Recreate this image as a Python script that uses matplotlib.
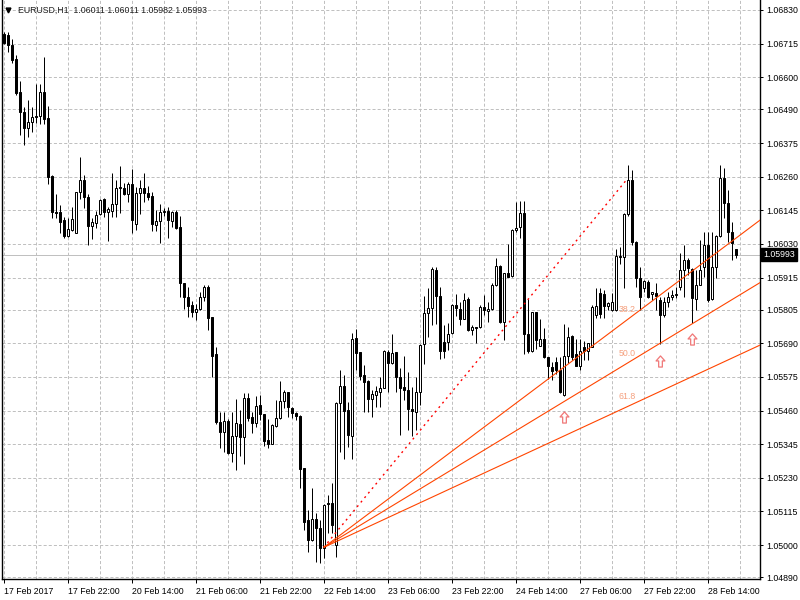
import numpy as np
import matplotlib
matplotlib.use("Agg")
import matplotlib.pyplot as plt
from matplotlib.path import Path
import matplotlib.transforms as mtransforms

plt.rcParams['lines.scale_dashes'] = False
plt.rcParams['font.family'] = ['Liberation Sans', 'DejaVu Sans']

# ---------------- data (EURUSD H1, from 17 Feb 2017 06:00) ----------------
opens = [1.06747, 1.06745, 1.06710, 1.06661, 1.06548, 1.06480, 1.06427, 1.06446, 1.06467, 1.06468,
         1.06548, 1.06460, 1.06262, 1.06138, 1.06138, 1.06112, 1.06058, 1.06078, 1.06068, 1.06207,
         1.06249, 1.06192, 1.06092, 1.06103, 1.06131, 1.06183, 1.06138, 1.06143, 1.06166, 1.06220,
         1.06220, 1.06200, 1.06235, 1.06097, 1.06203, 1.06220, 1.06204, 1.06194, 1.06094, 1.06108,
         1.06140, 1.06143, 1.06109, 1.06140, 1.06087, 1.05895, 1.05847, 1.05821, 1.05796, 1.05807,
         1.05847, 1.05884, 1.05779, 1.05654, 1.05420, 1.05386, 1.05424, 1.05316, 1.05373, 1.05413,
         1.05371, 1.05502, 1.05439, 1.05417, 1.05479, 1.05447, 1.05359, 1.05347, 1.05408, 1.05435,
         1.05493, 1.05523, 1.05469, 1.05452, 1.05442, 1.05262, 1.05086, 1.05017, 1.05088, 1.05057,
         1.04989, 1.05145, 1.05145, 1.05000, 1.05485, 1.05544, 1.05462, 1.05373, 1.05707, 1.05659,
         1.05582, 1.05561, 1.05500, 1.05513, 1.05525, 1.05538, 1.05659, 1.05622, 1.05659, 1.05576,
         1.05542, 1.05530, 1.05465, 1.05456, 1.05523, 1.05688, 1.05793, 1.05810, 1.05941, 1.05852,
         1.05696, 1.05694, 1.05724, 1.05821, 1.05806, 1.05773, 1.05842, 1.05736, 1.05745, 1.05745,
         1.05815, 1.05802, 1.05807, 1.05890, 1.05955, 1.05762, 1.05930, 1.05921, 1.06078, 1.06089,
         1.06137, 1.05722, 1.05665, 1.05796, 1.05682, 1.05704, 1.05642, 1.05610, 1.05627, 1.05599,
         1.05513, 1.05648, 1.05715, 1.05653, 1.05614, 1.05676, 1.05664, 1.05679, 1.05787, 1.05861,
         1.05858, 1.05819, 1.05804, 1.05804, 1.05984, 1.05984, 1.06131, 1.06249, 1.06038, 1.05912,
         1.05880, 1.05901, 1.05858, 1.05862, 1.05838, 1.05787, 1.05832, 1.05850, 1.05855, 1.05884,
         1.05941, 1.05975, 1.05944, 1.05841, 1.05890, 1.05952, 1.06026, 1.05841, 1.05950, 1.06057,
         1.06254, 1.06171, 1.06072, 1.06011]
highs = [1.06755, 1.06756, 1.06730, 1.06676, 1.06587, 1.06499, 1.06522, 1.06497, 1.06577, 1.06577,
         1.06668, 1.06502, 1.06265, 1.06200, 1.06163, 1.06123, 1.06118, 1.06157, 1.06209, 1.06328,
         1.06266, 1.06200, 1.06118, 1.06143, 1.06184, 1.06186, 1.06157, 1.06272, 1.06249, 1.06298,
         1.06237, 1.06243, 1.06286, 1.06223, 1.06249, 1.06272, 1.06228, 1.06207, 1.06146, 1.06167,
         1.06152, 1.06155, 1.06144, 1.06146, 1.06126, 1.05897, 1.05882, 1.05835, 1.05825, 1.05865,
         1.05890, 1.05890, 1.05780, 1.05679, 1.05454, 1.05454, 1.05431, 1.05454, 1.05500, 1.05462,
         1.05519, 1.05519, 1.05454, 1.05510, 1.05512, 1.05450, 1.05430, 1.05413, 1.05496, 1.05561,
         1.05530, 1.05525, 1.05473, 1.05454, 1.05445, 1.05264, 1.05120, 1.05194, 1.05109, 1.05086,
         1.05140, 1.05171, 1.05213, 1.05490, 1.05599, 1.05582, 1.05490, 1.05724, 1.05738, 1.05661,
         1.05616, 1.05563, 1.05530, 1.05544, 1.05576, 1.05667, 1.05667, 1.05722, 1.05661, 1.05607,
         1.05647, 1.05593, 1.05542, 1.05576, 1.05686, 1.05852, 1.05878, 1.05952, 1.05952, 1.05884,
         1.05753, 1.05761, 1.05825, 1.05859, 1.05832, 1.05861, 1.05850, 1.05753, 1.05747, 1.05821,
         1.05855, 1.05830, 1.05895, 1.05983, 1.05957, 1.05932, 1.06030, 1.06080, 1.06174, 1.06177,
         1.06177, 1.05841, 1.05798, 1.05798, 1.05772, 1.05744, 1.05644, 1.05625, 1.05644, 1.05644,
         1.05755, 1.05747, 1.05717, 1.05705, 1.05705, 1.05698, 1.05692, 1.05821, 1.05880, 1.05880,
         1.05872, 1.05832, 1.05863, 1.06012, 1.06020, 1.06135, 1.06300, 1.06283, 1.06040, 1.05952,
         1.05905, 1.05907, 1.05867, 1.05895, 1.05850, 1.05850, 1.05867, 1.05872, 1.05883, 1.05998,
         1.06026, 1.05982, 1.05947, 1.05941, 1.06043, 1.06072, 1.06072, 1.06072, 1.06059, 1.06300,
         1.06289, 1.06214, 1.06106, 1.06011]
lows = [1.06714, 1.06687, 1.06648, 1.06539, 1.06402, 1.06368, 1.06395, 1.06414, 1.06442, 1.06440,
        1.06440, 1.06234, 1.06118, 1.06118, 1.06068, 1.06049, 1.06054, 1.06074, 1.06067, 1.06183,
        1.06152, 1.06026, 1.06046, 1.06085, 1.06129, 1.06123, 1.06041, 1.06123, 1.06123, 1.06135,
        1.06197, 1.06174, 1.06066, 1.06078, 1.06132, 1.06172, 1.06180, 1.06073, 1.06074, 1.06032,
        1.06126, 1.06049, 1.06089, 1.06081, 1.05850, 1.05806, 1.05781, 1.05781, 1.05770, 1.05804,
        1.05836, 1.05736, 1.05574, 1.05413, 1.05331, 1.05319, 1.05312, 1.05285, 1.05257, 1.05305,
        1.05276, 1.05425, 1.05383, 1.05404, 1.05428, 1.05339, 1.05332, 1.05345, 1.05405, 1.05432,
        1.05468, 1.05439, 1.05436, 1.05428, 1.05195, 1.05051, 1.04975, 1.05014, 1.04943, 1.04938,
        1.04955, 1.05040, 1.05040, 1.04960, 1.05319, 1.05293, 1.05337, 1.05293, 1.05599, 1.05565,
        1.05456, 1.05456, 1.05439, 1.05473, 1.05471, 1.05536, 1.05525, 1.05619, 1.05525, 1.05377,
        1.05496, 1.05394, 1.05374, 1.05394, 1.05479, 1.05618, 1.05711, 1.05753, 1.05756, 1.05635,
        1.05639, 1.05667, 1.05722, 1.05784, 1.05753, 1.05772, 1.05733, 1.05719, 1.05692, 1.05741,
        1.05787, 1.05764, 1.05804, 1.05886, 1.05759, 1.05701, 1.05916, 1.05918, 1.06072, 1.06049,
        1.05653, 1.05656, 1.05661, 1.05670, 1.05680, 1.05640, 1.05568, 1.05565, 1.05585, 1.05521,
        1.05511, 1.05622, 1.05633, 1.05612, 1.05599, 1.05633, 1.05633, 1.05677, 1.05777, 1.05776,
        1.05776, 1.05804, 1.05802, 1.05802, 1.05960, 1.05878, 1.06126, 1.06026, 1.05884, 1.05804,
        1.05867, 1.05844, 1.05838, 1.05804, 1.05687, 1.05781, 1.05815, 1.05838, 1.05845, 1.05872,
        1.05850, 1.05924, 1.05759, 1.05804, 1.05888, 1.05918, 1.05832, 1.05839, 1.05912, 1.06055,
        1.06119, 1.06038, 1.05975, 1.05982]
closes = [1.06716, 1.06710, 1.06659, 1.06547, 1.06480, 1.06427, 1.06446, 1.06463, 1.06463, 1.06548,
          1.06456, 1.06260, 1.06138, 1.06135, 1.06106, 1.06058, 1.06081, 1.06114, 1.06207, 1.06249,
          1.06189, 1.06092, 1.06106, 1.06129, 1.06180, 1.06138, 1.06148, 1.06167, 1.06220, 1.06224,
          1.06200, 1.06235, 1.06112, 1.06203, 1.06220, 1.06203, 1.06192, 1.06097, 1.06107, 1.06140,
          1.06143, 1.06112, 1.06139, 1.06083, 1.05895, 1.05847, 1.05819, 1.05796, 1.05807, 1.05847,
          1.05882, 1.05776, 1.05648, 1.05422, 1.05386, 1.05424, 1.05316, 1.05373, 1.05417, 1.05369,
          1.05502, 1.05436, 1.05417, 1.05474, 1.05447, 1.05356, 1.05347, 1.05411, 1.05435, 1.05493,
          1.05523, 1.05471, 1.05451, 1.05443, 1.05261, 1.05080, 1.05017, 1.05088, 1.05060, 1.04989,
          1.05137, 1.05141, 1.05069, 1.05485, 1.05544, 1.05460, 1.05377, 1.05704, 1.05658, 1.05579,
          1.05559, 1.05500, 1.05516, 1.05526, 1.05538, 1.05664, 1.05622, 1.05656, 1.05576, 1.05536,
          1.05530, 1.05464, 1.05460, 1.05525, 1.05684, 1.05793, 1.05810, 1.05943, 1.05852, 1.05665,
          1.05665, 1.05722, 1.05821, 1.05810, 1.05773, 1.05838, 1.05736, 1.05745, 1.05741, 1.05815,
          1.05804, 1.05806, 1.05890, 1.05955, 1.05762, 1.05930, 1.05918, 1.06078, 1.06085, 1.06137,
          1.05721, 1.05665, 1.05796, 1.05701, 1.05704, 1.05642, 1.05614, 1.05596, 1.05599, 1.05523,
          1.05647, 1.05711, 1.05644, 1.05614, 1.05664, 1.05664, 1.05690, 1.05815, 1.05818, 1.05789,
          1.05819, 1.05827, 1.05832, 1.05989, 1.05990, 1.06131, 1.06249, 1.06038, 1.05912, 1.05850,
          1.05903, 1.05850, 1.05865, 1.05852, 1.05787, 1.05832, 1.05850, 1.05855, 1.05859, 1.05941,
          1.05975, 1.05947, 1.05844, 1.05890, 1.05941, 1.06026, 1.05838, 1.05952, 1.06057, 1.06254,
          1.06171, 1.06072, 1.06032, 1.05993]

x_tick_labels = ["17 Feb 2017", "17 Feb 22:00", "20 Feb 14:00", "21 Feb 06:00", "21 Feb 22:00",
                 "22 Feb 14:00", "23 Feb 06:00", "23 Feb 22:00", "24 Feb 14:00", "27 Feb 06:00",
                 "27 Feb 22:00", "28 Feb 14:00"]
y_tick_values = [1.06830, 1.06715, 1.06600, 1.06490, 1.06375, 1.06260, 1.06145, 1.06030, 1.05915,
                 1.05805, 1.05690, 1.05575, 1.05460, 1.05345, 1.05230, 1.05115, 1.05000, 1.04890]

# Fibonacci fan anchors (bar index, price) and levels
fan_bars = [80, 156]
fan_prices = [1.04992, 1.06254]
fan_levels = [38.2, 50.0, 61.8]

# arrow marks (bar index, price)
arrow_bars = [140, 164, 172]
arrow_prices = [1.05438, 1.05630, 1.05705]

title_text = "EURUSD,H1  1.06011 1.06011 1.05982 1.05993"
last_price = 1.05993

# ---------------- figure ----------------
O = np.array(opens); H = np.array(highs); L = np.array(lows); C = np.array(closes)
n = len(O)
xs = np.arange(n)

fig = plt.figure(figsize=(8, 6), dpi=100)
fig.patch.set_facecolor('white')
ax = fig.add_axes([2 / 800, 21 / 600, 758 / 800, 579 / 600])
ax.set_facecolor('white')
ax.set_xlim(-0.425, 189.075)
ax.set_ylim(1.04884, 1.068642)

PX = 0.72  # one pixel in points
grid_kw = dict(color='#c0c0c0', lw=PX, dashes=(2.2, 1.5), zorder=0.5)
for v in y_tick_values:
    ax.axhline(v, **grid_kw)
for b in range(0, 190, 8):
    ax.axvline(b, **grid_kw)

# current price line
ax.axhline(last_price, color='#c0c0c0', lw=PX, zorder=0.6)

# candles
ax.vlines(xs, L, H, color='black', lw=PX, zorder=2)
up = C >= O
bottom = np.minimum(O, C)
height = np.abs(C - O)
ax.bar(xs, height, bottom=bottom, width=0.5,
       color=np.where(up, 'white', 'black'), edgecolor='black', linewidth=PX, zorder=3)

# Fibonacci fan
x1, x2 = fan_bars
p1, p2 = fan_prices
xr = 189.5
ax.plot([x1, x2], [p1, p2], color='#ff0000', lw=1.0, dashes=(1.4, 2.8), zorder=4)
for lvl in fan_levels:
    pl = p2 - lvl / 100.0 * (p2 - p1)
    slope = (pl - p1) / (x2 - x1)
    ax.plot([x1, xr], [p1, p1 + slope * (xr - x1)], color='#ff4500', lw=0.8, zorder=4,
            solid_capstyle='butt')
    ax.annotate(f"{lvl:.1f}", xy=(x2, pl), xytext=(-1, 5), textcoords='offset pixels',
                ha='center', va='bottom', fontsize=6.3, color='#f5a07e', zorder=5)

# arrows
arrow_path = Path([(0, 1), (0.8, 0.1), (0.33, 0.1), (0.33, -1), (-0.33, -1), (-0.33, 0.1),
                   (-0.8, 0.1), (0, 1)],
                  [Path.MOVETO] + [Path.LINETO] * 6 + [Path.CLOSEPOLY])
ax.plot(arrow_bars, arrow_prices, ls='none', marker=arrow_path, markersize=8,
        markerfacecolor='white', markeredgecolor='#f07878', markeredgewidth=0.9, zorder=5)

# axes styling
for side in ['top']:
    ax.spines[side].set_visible(False)
for side in ['left', 'right', 'bottom']:
    ax.spines[side].set_color('black')
    ax.spines[side].set_linewidth(1.0)

ax.yaxis.tick_right()
ax.set_yticks(y_tick_values)
ax.set_yticklabels([f"{v:.5f}" for v in y_tick_values])
ax.tick_params(axis='y', which='major', length=2.5, width=PX, pad=2, labelsize=6.3,
               colors='black', direction='out')

ax.set_xticks(list(range(0, 16 * len(x_tick_labels), 16)))
ax.set_xticklabels(x_tick_labels, ha='left')
ax.tick_params(axis='x', which='major', length=3, width=PX, pad=2.5, labelsize=6.3,
               colors='black', direction='out')
for lab in ax.get_xticklabels():
    lab.set_horizontalalignment('left')

# current price tag on the right axis
trans = mtransforms.blended_transform_factory(ax.transAxes, ax.transData)
ax.text(1.0045, last_price, f"{last_price:.5f}", transform=trans, ha='left', va='center',
        fontsize=6.3, color='white', clip_on=False,
        bbox=dict(boxstyle='square,pad=0.22', facecolor='black', edgecolor='black'))

# header
ax.plot([0.0085], [0.983], transform=ax.transAxes, marker='v', color='black', markersize=3.5,
        clip_on=False)
ax.text(0.0205, 0.983, title_text, transform=ax.transAxes, ha='left', va='center',
        fontsize=6.3, color='#202020')

fig.savefig("out.png", dpi=100, facecolor='white')
